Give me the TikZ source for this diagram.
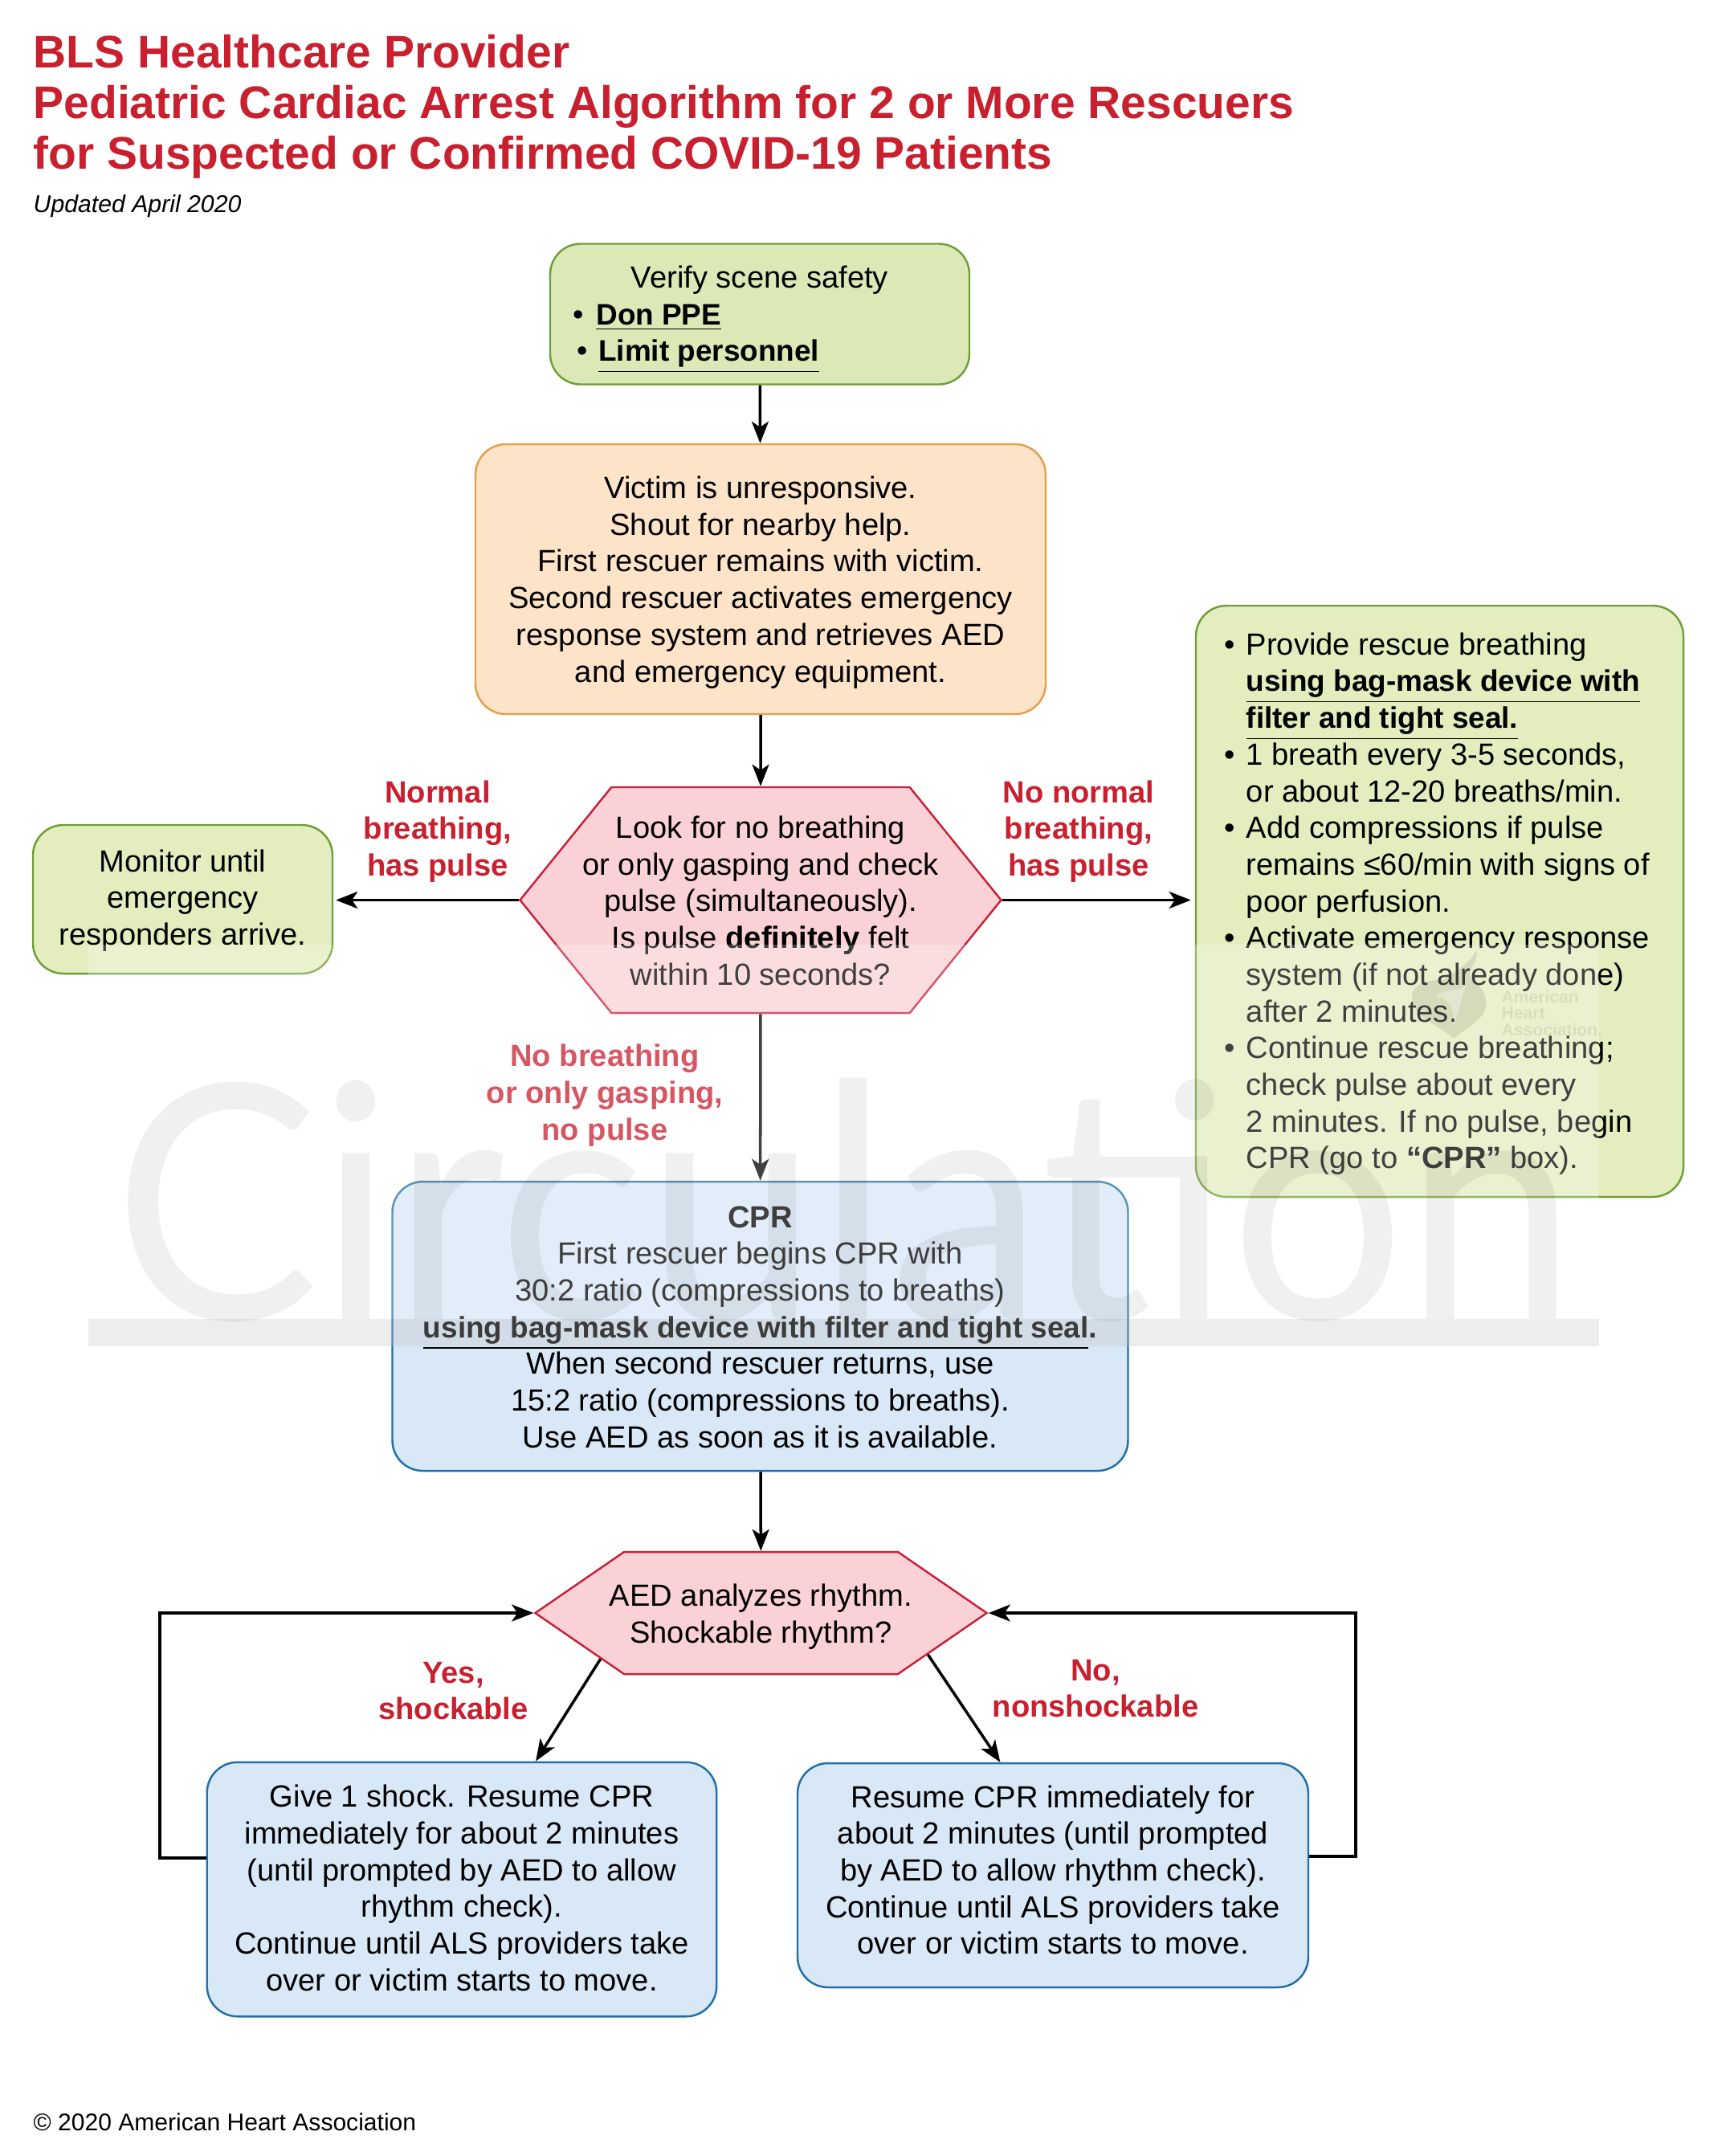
\documentclass[tikz,border=0pt]{standalone}
\usepackage{fontspec}
\setmainfont{Liberation Sans}
\newfontfamily\markfont{Lato}
\usepackage{tikz}
\usetikzlibrary{shapes.symbols, arrows.meta, positioning}
\definecolor{titleRed}{RGB}{200, 32, 47}
\definecolor{scenePale}{RGB}{220, 233, 183}
\definecolor{leafPale}{RGB}{228, 237, 190}
\definecolor{leafLine}{RGB}{110, 158, 58}
\definecolor{alertPale}{RGB}{253, 227, 200}
\definecolor{alertLine}{RGB}{229, 159, 76}
\definecolor{askPale}{RGB}{250, 210, 213}
\definecolor{askLine}{RGB}{200, 32, 58}
\definecolor{careBlue}{RGB}{217, 232, 247}
\definecolor{careLine}{RGB}{31, 111, 168}
\newcommand{\ulb}[1]{\underline{\fontsize{10.5}{13}\selectfont\textbf{#1}}}
\newcommand{\bul}{\hspace*{0.21cm}\llap{\textbullet\hspace{0.14cm}}}
\newcommand{\cont}{\hspace*{0.21cm}}
\newcommand{\hexlines}[2]{\makebox[#1]{\begin{tabular}{@{}c@{}}#2\end{tabular}}}
\newcommand{\dn}[1]{\rule{0pt}{#1pt}}
\newcommand{\up}[1]{\rule[-#1pt]{0pt}{0pt}}

\begin{document}
\begin{tikzpicture}[
    every node/.style={font=\fontsize{10.85}{13}\selectfont, inner sep=0pt, align=center},
    stepbox/.style={rectangle, rounded corners=0.38cm, line width=0.7pt},
    scene/.style={stepbox, draw=leafLine, fill=scenePale, minimum width=5.22cm, minimum height=1.75cm},
    leaf/.style={stepbox, draw=leafLine, fill=leafPale},
    alert/.style={stepbox, draw=alertLine, fill=alertPale, minimum width=7.10cm, minimum height=3.36cm},
    care/.style={stepbox, draw=careLine, fill=careBlue},
    ask/.style={signal, signal to=west and east, draw=askLine, fill=askPale, line width=0.7pt},
    go/.style={-{Stealth[length=0.27cm, width=0.21cm, inset=0.07cm]}, line width=1pt},
    rlabel/.style={font=\fontsize{10.85}{13}\selectfont\bfseries, text=titleRed},
    wmark/.style={text=black, text opacity=0.06},
]
\useasboundingbox (0, 0) rectangle (21.58, -26.84);
\node[anchor=west, font=\fontsize{16.2}{17.85}\selectfont\bfseries, text=titleRed, align=left] (title) at (0.41, -1.33) {BLS Healthcare Provider\\Pediatric Cardiac Arrest Algorithm for 2 or More Rescuers\\for Suspected or Confirmed COVID-19 Patients};
\node[anchor=west, font=\fontsize{8.6}{10}\selectfont\itshape] (updated) at (0.41, -2.57) {Updated April 2020};
% flow boxes
\node[scene] (verify) at (9.46, -3.91) {\dn{11.6}Verify scene safety\\\makebox[4.9cm][l]{\hspace{0.12cm}\textbullet\hspace{0.16cm}\ulb{Don PPE}}\\\makebox[4.9cm][l]{\hspace{0.17cm}\textbullet\hspace{0.14cm}\ulb{Limit personnel}}};
\node[alert] (victim) at (9.47, -7.21) {\dn{10.1}Victim is unresponsive.\\Shout for nearby help.\\First rescuer remains with victim.\\Second rescuer activates emergency\\response system and retrieves AED\\and emergency equipment.};
\node[ask, minimum width=5.99cm, minimum height=2.81cm, signal pointer angle=102] (look) at (9.47, -11.205) {\hexlines{3.68cm}{\dn{12}Look for no breathing\\or only gasping and check\\pulse (simultaneously).\\Is pulse \textbf{definitely} felt\\within 10 seconds?}};
\node[leaf, minimum width=3.73cm, minimum height=1.85cm] (monitor) at (2.275, -11.195) {\dn{8.7}Monitor until\\emergency\\responders arrive.};
\node[leaf, minimum width=6.07cm, minimum height=7.36cm, align=left] (rescue) at (17.925, -11.22) {\bul\dn{9.7}Provide rescue breathing\\\cont\ulb{using bag-mask device with}\\\cont\ulb{filter and tight seal.}\\\bul 1 breath every 3-5 seconds,\\\cont or about 12-20 breaths/min.\\\bul Add compressions if pulse\\\cont remains ≤60/min with signs of\\\cont poor perfusion.\\\bul Activate emergency response\\\cont system (if not already done)\\\cont after 2 minutes.\\\bul Continue rescue breathing;\\\cont check pulse about every\\\cont 2 minutes. If no pulse, begin\\\cont CPR (go to \textbf{“CPR”} box).};
\node[care, minimum width=9.16cm, minimum height=3.60cm] (cpr) at (9.465, -16.51) {\dn{8.2}\textbf{CPR}\\First rescuer begins CPR with\\30:2 ratio (compressions to breaths)\\\ulb{using bag-mask device with filter and tight seal}\textbf{.}\\When second rescuer returns, use\\15:2 ratio (compressions to breaths).\\Use AED as soon as it is available.};
\node[ask, minimum width=5.59cm, minimum height=1.52cm, signal pointer angle=69] (aed) at (9.475, -20.08) {\hexlines{3.41cm}{\dn{12}AED analyzes rhythm.\\Shockable rhythm?}};
\node[care, minimum width=6.345cm, minimum height=3.165cm] (shock) at (5.75, -23.52) {Give 1 shock. Resume CPR\\immediately for about 2 minutes\\(until prompted by AED to allow\\rhythm check).\\Continue until ALS providers take\\over or victim starts to move.\up{1}};
\node[care, minimum width=6.36cm, minimum height=2.79cm] (resume) at (13.11, -23.345) {Resume CPR immediately for\\about 2 minutes (until prompted\\by AED to allow rhythm check).\\Continue until ALS providers take\\over or victim starts to move.\up{3.9}};
% branch labels
\node[rlabel] (normal) at (5.45, -10.35) {Normal\\breathing,\\has pulse};
\node[rlabel] (nonormal) at (13.43, -10.35) {No normal\\breathing,\\has pulse};
\node[rlabel] (nobreath) at (7.53, -13.635) {No breathing\\or only gasping,\\no pulse};
\node[rlabel] (yes) at (5.645, -21.05) {Yes,\\shockable};
\node[rlabel] (no) at (13.64, -21.02) {No,\\nonshockable};
\node[anchor=west, font=\fontsize{8.55}{10}\selectfont] (copyright) at (0.41, -26.42) {© 2020 American Heart Association};
% connectors
\coordinate (loopl) at (1.99, -23.13);
\coordinate (loopr) at (16.88, -23.11);
\draw[go] (verify) -- (victim);
\draw[go] (victim) -- (look);
\draw[go, shorten >=0.03cm] (look.west) -- (look.west -| monitor.east);
\draw[go, shorten >=0.05cm] (look.east) -- (look.east -| rescue.west);
\draw[go] (look) -- (cpr);
\draw[go] (cpr) -- (aed);
\draw[go] (aed.196) -- (shock.60);
\draw[go] (aed.-14) -- (resume.115);
\draw[go] (shock.west |- loopl) -- (loopl) |- (aed.west);
\draw[go] (resume.east |- loopr) -- (loopr) |- (aed.east);
% watermark over everything
\fill[white, opacity=0.25] (1.10, -11.76) rectangle (19.91, -16.76);
\node[wmark, anchor=base, font=\markfont\fontsize{116}{120}\selectfont, xscale=0.94, transform shape] (circ) at (10.52, -16.42) {Circulation};
\fill[black, opacity=0.07] (1.10, -16.42) rectangle (19.91, -16.76);
\fill[black, opacity=0.09] (18.38, -11.83) .. controls (18.30, -12.0) and (18.1, -12.1) .. (17.97, -12.2) .. controls (17.8, -12.2) and (17.58, -12.22) .. (17.58, -12.43) .. controls (17.58, -12.65) and (17.9, -12.75) .. (18.10, -12.93) .. controls (18.3, -12.75) and (18.50, -12.7) .. (18.50, -12.48) .. controls (18.50, -12.35) and (18.42, -12.25) .. (18.33, -12.2) .. controls (18.22, -12.1) and (18.42, -12.0) .. cycle;
\fill[white, opacity=0.35] (17.88, -12.4) .. controls (18.0, -12.3) and (18.15, -12.35) .. (18.25, -12.27) .. controls (18.2, -12.45) and (18.15, -12.6) .. (18.1, -12.8) .. controls (18.1, -12.6) and (18.1, -12.45) .. (17.88, -12.4);
\node[wmark, text opacity=0.08, anchor=north west, align=left, font=\fontsize{6}{5.9}\selectfont\bfseries] (aha) at (18.69, -12.32) {American\\Heart\\Association.};
\end{tikzpicture}
\end{document}
